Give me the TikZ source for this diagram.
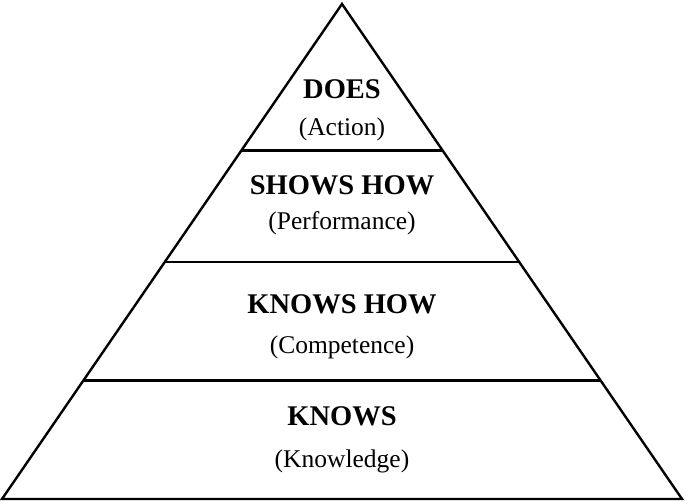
\documentclass[tikz,border=0pt]{standalone}
\usepackage{fontspec}
\setmainfont{Liberation Serif}
\usetikzlibrary{calc}
\tikzset{
  edge/.style={line width=2.4pt, line join=miter},
  tier/.style={line width=2.2pt},
  head/.style={font=\fontsize{28.5}{32}\selectfont\bfseries, inner sep=0pt},
  sub/.style={font=\fontsize{25.5}{29}\selectfont, inner sep=0pt}
}
\begin{document}
\begin{tikzpicture}[x=1pt,y=1pt]
\useasboundingbox (0,0) rectangle (685,501);
\coordinate (A) at (342,497);
\coordinate (BL) at (2,2);
\coordinate (BR) at (682,2);
\draw[edge] (BL) -- (A) -- (BR) -- cycle;
\coordinate (L1) at ($(BL)!{(350.5-2)/495}!(A)$);
\coordinate (R1) at ($(BR)!{(350.5-2)/495}!(A)$);
\coordinate (L2) at ($(BL)!{(239-2)/495}!(A)$);
\coordinate (R2) at ($(BR)!{(239-2)/495}!(A)$);
\coordinate (L3) at ($(BL)!{(120.5-2)/495}!(A)$);
\coordinate (R3) at ($(BR)!{(120.5-2)/495}!(A)$);
\draw[tier] (L1) -- (R1);
\draw[tier] (L2) -- (R2);
\draw[tier] (L3) -- (R3);
\node[head] (does) at (342,412) {DOES};
\node[sub] (action) at (342,372) {(Action)};
\node[head] (shows) at (342,316) {SHOWS HOW};
\node[sub] (perf) at (342,278) {(Performance)};
\node[head] (knowshow) at (342,197) {KNOWS HOW};
\node[sub] (comp) at (342,154) {(Competence)};
\node[head] (knows) at (342,85) {KNOWS};
\node[sub] (know) at (342,40) {(Knowledge)};
\end{tikzpicture}
\end{document}
